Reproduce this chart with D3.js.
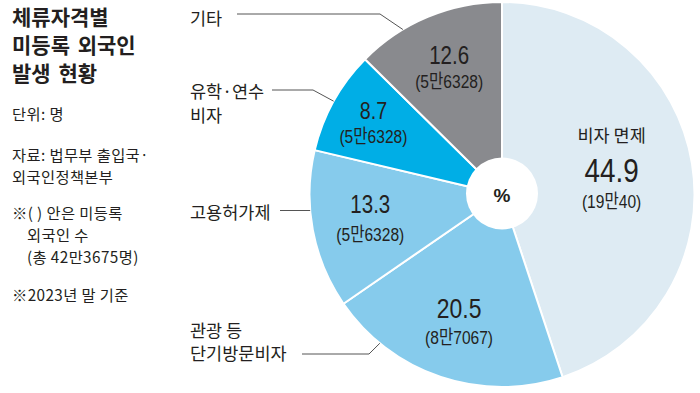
<!DOCTYPE html>
<html><head><meta charset="utf-8">
<script src="https://cdn.jsdelivr.net/npm/d3@7"></script>
<style>
html,body{margin:0;padding:0;background:#fff;}
svg{display:block;}
text{font-family:"Noto Sans CJK KR",sans-serif;fill:#231f20;}
.nar{font-family:"Liberation Sans","Noto Sans CJK KR",sans-serif;}
.ttl{font-weight:700;}
</style></head>
<body>
<svg id="c" width="700" height="393"></svg>
<script>
// ---- data ----
const categories = ["비자 면제", "관광 등 단기방문비자", "고용허가제", "유학·연수 비자", "기타"];
const shares = [44.9, 20.5, 13.3, 8.7, 12.6];
const counts = ["(19만40)", "(8만7067)", "(5만6328)", "(5만6328)", "(5만6328)"];
const outerLabels = [[], ["관광 등", "단기방문비자"], ["고용허가제"], ["유학·연수", "비자"], ["기타"]];
const titleLines = ["체류자격별", "미등록 외국인", "발생 현황"];
const noteLines = ["단위: 명", "자료: 법무부 출입국·", "외국인정책본부", "※( ) 안은 미등록", "외국인 수", "(총 42만3675명)", "※2023년 말 기준"];

// ---- styles / layout ----
const colors = ["#deebf3", "#86cbec", "#86cbec", "#00aee6", "#898a8e"];
const textColors = ["#231f20", "#231f20", "#231f20", "#fff", "#fff"];
const valueSizes = [34, 28, 25, 24, 25];
const labelR = [111, 135, 134, 147, 137];
const labelDy = [-8, 0, 0, 0, 0];
const cx = 502, cy = 194.5, R = 192.5, r0 = 36;
const SX = 0.82;

const svg = d3.select("#c");

// title
svg.selectAll("text.ttl").data(titleLines).join("text").attr("class", "ttl")
  .attr("x", 12).attr("y", (d, i) => 25 + i * 28).attr("font-size", 21)
  .attr("word-spacing", 3).text(d => d);

// notes
const noteY = [120, 160.5, 183, 219, 241, 263, 300.5];
const noteX = [12, 12, 12, 12, 27, 27, 12];
svg.selectAll("text.note").data(noteLines).join("text").attr("class", "note")
  .attr("x", (d, i) => noteX[i]).attr("y", (d, i) => noteY[i])
  .attr("font-size", 15.3).attr("letter-spacing", 0.4).text(d => d);

// pie
const pie = d3.pie().sort(null).value(d => d);
const arcs = pie(shares);
const arc = d3.arc().innerRadius(0).outerRadius(R);
const g = svg.append("g").attr("transform", `translate(${cx},${cy})`);
g.selectAll("path").data(arcs).join("path")
  .attr("d", arc).attr("fill", (d, i) => colors[i])
  .attr("stroke", "#fff").attr("stroke-width", 2).attr("stroke-linejoin", "round");
g.append("circle").attr("r", r0).attr("cx", 0).attr("cy", -1).attr("fill", "#fff");
g.append("text").attr("class", "nar").attr("x", 0).attr("y", 7).attr("text-anchor", "middle")
  .attr("font-size", 19).attr("font-weight", 700).text("%");

function narrow(sel, y, size, col, txt) {
  sel.append("text").attr("class", "nar").attr("text-anchor", "middle")
    .attr("transform", `translate(0,${y}) scale(${SX},1)`)
    .attr("font-size", size).attr("fill", col).text(txt);
}

// slice labels
arcs.forEach((a, i) => {
  const mid = (a.startAngle + a.endAngle) / 2;
  const x = Math.sin(mid) * labelR[i];
  const y = -Math.cos(mid) * labelR[i] + labelDy[i];
  const lg = g.append("g").attr("transform", `translate(${x},${y})`);
  const col = textColors[i];
  if (i === 0) {
    lg.append("text").attr("text-anchor", "middle").attr("y", -33 + 6.3).attr("font-size", 17.5)
      .attr("fill", col).text(categories[0]);
    narrow(lg, 1 + valueSizes[i] * 0.358, valueSizes[i], col, shares[i].toFixed(1));
    narrow(lg, 33 + 6.5, 19, col, counts[i]);
  } else {
    const off = (i >= 3) ? 13 : 15;
    narrow(lg, -off + valueSizes[i] * 0.358, valueSizes[i], col, shares[i].toFixed(1));
    narrow(lg, off + 6.5, 19, col, counts[i]);
  }
});

// outer labels + leader lines
const leaderDeg = [null, 219.4, 265.2, 299, 329];
const labelX = 190;
const labelBase = [null, 336.5, 218.5, 98, 25];
const lineY = [null, 354, 210.5, 90, 14];
const lineX0 = [null, 302, 280, 272, 237];
const elbowX = [null, 369, null, 313, 380];
for (let i = 1; i < 5; i++) {
  outerLabels[i].forEach((t, k) => {
    svg.append("text").attr("x", labelX).attr("y", labelBase[i] + k * 23.5)
      .attr("font-size", 17.5).text(t);
  });
  const ang = leaderDeg[i] * Math.PI / 180;
  const ex = cx + Math.sin(ang) * R, ey = cy - Math.cos(ang) * R;
  const pts = [[lineX0[i], lineY[i]]];
  if (elbowX[i] !== null) pts.push([elbowX[i], lineY[i]]);
  pts.push([ex, i === 2 ? lineY[i] : ey]);
  svg.append("path").attr("d", d3.line()(pts)).attr("fill", "none")
    .attr("stroke", "#555").attr("stroke-width", 1);
}
</script>
</body></html>
